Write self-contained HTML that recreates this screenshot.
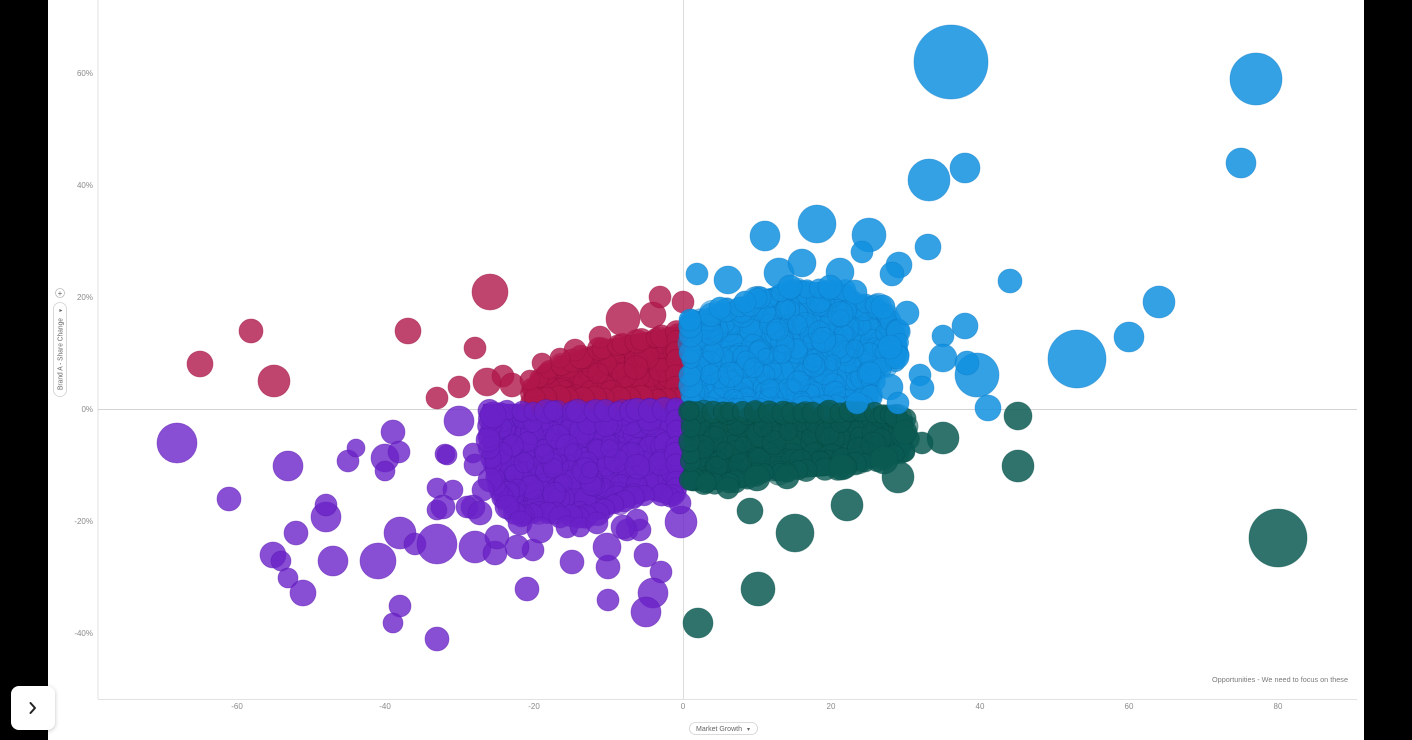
<!DOCTYPE html>
<html>
<head>
<meta charset="utf-8">
<style>
  html,body{margin:0;padding:0;background:#000;}
  body{width:1412px;height:740px;overflow:hidden;position:relative;font-family:"Liberation Sans",sans-serif;}
  svg{position:absolute;left:0;top:0;}
</style>
</head>
<body>
<svg id="chart" width="1412" height="740" viewBox="0 0 1412 740" xmlns="http://www.w3.org/2000/svg">
  <rect x="0" y="0" width="1412" height="740" fill="#000"/>
  <rect x="48" y="0" width="1316" height="740" fill="#fff"/>

  <line x1="98" y1="0" x2="98" y2="699" stroke="#e2e2e2" stroke-width="1"/>
  <line x1="98" y1="699.5" x2="1357" y2="699.5" stroke="#e2e2e2" stroke-width="1"/>
  <line x1="683.5" y1="0" x2="683.5" y2="699" stroke="#dcdcdc" stroke-width="1"/>
  <line x1="98" y1="409.5" x2="1357" y2="409.5" stroke="#d4d4d4" stroke-width="1"/>

  <g font-family="Liberation Sans, sans-serif" font-size="8" fill="#8a8a8a" text-anchor="end">
    <text x="93" y="76">60%</text>
    <text x="93" y="188">40%</text>
    <text x="93" y="300">20%</text>
    <text x="93" y="412">0%</text>
    <text x="93" y="524">-20%</text>
    <text x="93" y="636">-40%</text>
  </g>
  <g font-family="Liberation Sans, sans-serif" font-size="8" fill="#8a8a8a" text-anchor="middle">
    <text x="237" y="709">-60</text>
    <text x="385" y="709">-40</text>
    <text x="534" y="709">-20</text>
    <text x="683" y="709">0</text>
    <text x="831" y="709">20</text>
    <text x="980" y="709">40</text>
    <text x="1129" y="709">60</text>
    <text x="1278" y="709">80</text>
  </g>

  <circle cx="60" cy="293" r="4.5" fill="#fff" stroke="#bbb" stroke-width="0.8"/>
  <text x="60" y="296" font-family="Liberation Sans, sans-serif" font-size="8" fill="#666" text-anchor="middle">+</text>
  <rect x="53.5" y="302.5" width="13" height="94" rx="6.5" fill="#fff" stroke="#cfcfcf" stroke-width="0.8"/>
  <text transform="translate(62.5,390) rotate(-90)" font-family="Liberation Sans, sans-serif" font-size="7" fill="#666" textLength="72" lengthAdjust="spacingAndGlyphs">Brand A - Share Change</text>
  <text transform="translate(62.5,312) rotate(-90)" font-family="Liberation Sans, sans-serif" font-size="6" fill="#666">▾</text>

  <rect x="689.5" y="722.5" width="68" height="12" rx="6" fill="#fff" stroke="#cfcfcf" stroke-width="0.8"/>
  <text x="696" y="731" font-family="Liberation Sans, sans-serif" font-size="7.5" fill="#666" textLength="46" lengthAdjust="spacingAndGlyphs">Market Growth</text>
  <text x="747" y="731" font-family="Liberation Sans, sans-serif" font-size="6" fill="#666">▾</text>

  <text x="1348" y="682" font-family="Liberation Sans, sans-serif" font-size="7.5" fill="#7a7a7a" text-anchor="end" textLength="136" lengthAdjust="spacingAndGlyphs">Opportunities - We need to focus on these</text>

  <g id="cores">
    <polygon fill="#b0164a" points="525,405 523,386 530,378 540,366 555,360 575,352 590,347 600,341 620,337 640,333 660,330 675,327 683,325 683,405"/>
    <polygon fill="#1190e0" points="683,318 690,312 705,310 720,303 745,300 757,291 770,288 785,283 800,280 815,282 835,282 850,285 860,295 875,298 885,302 895,315 905,330 908,350 903,366 890,370 880,380 878,400 870,412 830,414 780,416 740,415 700,414 683,412"/>
    <polygon fill="#6a22c8" points="483,404 683,403 683,500 670,505 650,500 620,510 600,520 580,524 560,520 540,520 520,524 510,518 500,505 490,490 485,470 483,450 482,420"/>
    <polygon fill="#0a5a52" points="683,405 870,405 900,409 913,418 914,440 908,457 890,465 860,470 840,475 800,478 780,480 770,478 750,487 730,490 710,490 695,488 686,485 683,480"/>
  </g>
  <g id="texture"></g>

  <g fill="#b0164a" fill-opacity="0.8" stroke="#9c1040" stroke-opacity="0.5" stroke-width="0.8">
    <circle cx="490" cy="292" r="18"/>
    <circle cx="408" cy="331" r="13"/>
    <circle cx="251" cy="331" r="12"/>
    <circle cx="200" cy="364" r="13"/>
    <circle cx="274" cy="381" r="16"/>
    <circle cx="475" cy="348" r="11"/>
    <circle cx="437" cy="398" r="11"/>
    <circle cx="459" cy="387" r="11"/>
    <circle cx="487" cy="382" r="14"/>
    <circle cx="503" cy="376" r="11"/>
    <circle cx="512" cy="385" r="12"/>
    <circle cx="542" cy="363" r="10"/>
    <circle cx="623" cy="319" r="17"/>
    <circle cx="653" cy="315" r="13"/>
    <circle cx="660" cy="297" r="11"/>
    <circle cx="683" cy="302" r="11"/>
    <circle cx="600" cy="337" r="11"/>
    <circle cx="575" cy="350" r="11"/>
    <circle cx="560" cy="358" r="10"/>
    <circle cx="530" cy="380" r="10"/>
  </g>

  <g fill="#1190e0" fill-opacity="0.85" stroke="#0a7cc8" stroke-opacity="0.5" stroke-width="0.8">
    <circle cx="951" cy="62" r="37"/>
    <circle cx="1256" cy="79" r="26"/>
    <circle cx="1241" cy="163" r="15"/>
    <circle cx="929" cy="180" r="21"/>
    <circle cx="965" cy="168" r="15"/>
    <circle cx="817" cy="224" r="19"/>
    <circle cx="765" cy="236" r="15"/>
    <circle cx="869" cy="235" r="17"/>
    <circle cx="862" cy="252" r="11"/>
    <circle cx="928" cy="247" r="13"/>
    <circle cx="697" cy="274" r="11"/>
    <circle cx="728" cy="280" r="14"/>
    <circle cx="779" cy="273" r="15"/>
    <circle cx="802" cy="263" r="14"/>
    <circle cx="840" cy="272" r="14"/>
    <circle cx="899" cy="265" r="13"/>
    <circle cx="892" cy="274" r="12"/>
    <circle cx="1010" cy="281" r="12"/>
    <circle cx="757" cy="298" r="10"/>
    <circle cx="720" cy="308" r="11"/>
    <circle cx="907" cy="313" r="12"/>
    <circle cx="883" cy="307" r="12"/>
    <circle cx="965" cy="326" r="13"/>
    <circle cx="943" cy="336" r="11"/>
    <circle cx="943" cy="358" r="14"/>
    <circle cx="977" cy="375" r="22"/>
    <circle cx="967" cy="363" r="12"/>
    <circle cx="920" cy="375" r="11"/>
    <circle cx="922" cy="388" r="12"/>
    <circle cx="890" cy="387" r="13"/>
    <circle cx="898" cy="403" r="11"/>
    <circle cx="988" cy="408" r="13"/>
    <circle cx="857" cy="403" r="11"/>
    <circle cx="897" cy="357" r="12"/>
    <circle cx="890" cy="347" r="12"/>
    <circle cx="870" cy="373" r="11"/>
    <circle cx="1159" cy="302" r="16"/>
    <circle cx="1129" cy="337" r="15"/>
    <circle cx="1077" cy="359" r="29"/>
    <circle cx="690" cy="320" r="11"/>
    <circle cx="745" cy="302" r="11"/>
    <circle cx="790" cy="287" r="12"/>
    <circle cx="830" cy="287" r="12"/>
    <circle cx="855" cy="292" r="12"/>
  </g>

  <g fill="#6a22c8" fill-opacity="0.8" stroke="#5a18b0" stroke-opacity="0.5" stroke-width="0.8">
    <circle cx="177" cy="443" r="20"/>
    <circle cx="288" cy="466" r="15"/>
    <circle cx="229" cy="499" r="12"/>
    <circle cx="326" cy="517" r="15"/>
    <circle cx="326" cy="505" r="11"/>
    <circle cx="296" cy="533" r="12"/>
    <circle cx="273" cy="555" r="13"/>
    <circle cx="281" cy="561" r="10"/>
    <circle cx="288" cy="578" r="10"/>
    <circle cx="303" cy="593" r="13"/>
    <circle cx="333" cy="561" r="15"/>
    <circle cx="378" cy="561" r="18"/>
    <circle cx="400" cy="533" r="16"/>
    <circle cx="415" cy="544" r="11"/>
    <circle cx="437" cy="544" r="20"/>
    <circle cx="400" cy="606" r="11"/>
    <circle cx="393" cy="623" r="10"/>
    <circle cx="437" cy="639" r="12"/>
    <circle cx="348" cy="461" r="11"/>
    <circle cx="356" cy="448" r="9"/>
    <circle cx="393" cy="432" r="12"/>
    <circle cx="385" cy="458" r="14"/>
    <circle cx="399" cy="452" r="11"/>
    <circle cx="385" cy="471" r="10"/>
    <circle cx="445" cy="454" r="10"/>
    <circle cx="459" cy="421" r="15"/>
    <circle cx="437" cy="488" r="10"/>
    <circle cx="437" cy="510" r="10"/>
    <circle cx="473" cy="453" r="10"/>
    <circle cx="453" cy="490" r="10"/>
    <circle cx="473" cy="507" r="12"/>
    <circle cx="475" cy="547" r="16"/>
    <circle cx="495" cy="553" r="12"/>
    <circle cx="533" cy="550" r="11"/>
    <circle cx="572" cy="562" r="12"/>
    <circle cx="608" cy="567" r="12"/>
    <circle cx="527" cy="589" r="12"/>
    <circle cx="608" cy="600" r="11"/>
    <circle cx="646" cy="555" r="12"/>
    <circle cx="661" cy="572" r="11"/>
    <circle cx="653" cy="593" r="15"/>
    <circle cx="646" cy="612" r="15"/>
    <circle cx="681" cy="522" r="16"/>
    <circle cx="607" cy="547" r="14"/>
    <circle cx="447" cy="455" r="10"/>
    <circle cx="475" cy="465" r="11"/>
    <circle cx="490" cy="480" r="12"/>
    <circle cx="483" cy="490" r="11"/>
    <circle cx="443" cy="507" r="12"/>
    <circle cx="467" cy="507" r="11"/>
    <circle cx="480" cy="513" r="12"/>
    <circle cx="507" cy="507" r="12"/>
    <circle cx="520" cy="523" r="12"/>
    <circle cx="540" cy="530" r="13"/>
    <circle cx="560" cy="517" r="11"/>
    <circle cx="567" cy="527" r="11"/>
    <circle cx="580" cy="527" r="10"/>
    <circle cx="597" cy="523" r="11"/>
    <circle cx="627" cy="530" r="11"/>
    <circle cx="640" cy="530" r="11"/>
    <circle cx="637" cy="520" r="11"/>
    <circle cx="680" cy="503" r="11"/>
    <circle cx="497" cy="537" r="12"/>
    <circle cx="517" cy="547" r="12"/>
    <circle cx="623" cy="527" r="12"/>
    <circle cx="493" cy="415" r="13"/>
    <circle cx="488" cy="440" r="12"/>
  </g>

  <g fill="#0a5a52" fill-opacity="0.85" stroke="#06504a" stroke-opacity="0.5" stroke-width="0.8">
    <circle cx="1278" cy="538" r="29"/>
    <circle cx="1018" cy="416" r="14"/>
    <circle cx="1018" cy="466" r="16"/>
    <circle cx="943" cy="438" r="16"/>
    <circle cx="922" cy="443" r="11"/>
    <circle cx="898" cy="477" r="16"/>
    <circle cx="884" cy="460" r="14"/>
    <circle cx="847" cy="505" r="16"/>
    <circle cx="795" cy="533" r="19"/>
    <circle cx="758" cy="589" r="17"/>
    <circle cx="698" cy="623" r="15"/>
    <circle cx="750" cy="511" r="13"/>
    <circle cx="728" cy="488" r="11"/>
    <circle cx="706" cy="483" r="10"/>
    <circle cx="787" cy="477" r="12"/>
    <circle cx="757" cy="478" r="13"/>
    <circle cx="842" cy="467" r="13"/>
    <circle cx="905" cy="432" r="12"/>
  </g>

  <defs>
    <filter id="sh" x="-30%" y="-30%" width="160%" height="160%">
      <feDropShadow dx="0" dy="1" stdDeviation="2" flood-color="#000" flood-opacity="0.25"/>
    </filter>
  </defs>
  <rect x="11" y="686" width="44" height="44" rx="8" fill="#fff" filter="url(#sh)"/>
  <polyline points="30.5,703 35,708 30.5,713" fill="none" stroke="#222" stroke-width="2" stroke-linecap="round" stroke-linejoin="round"/>
</svg>
<script>
(function(){
  var seed = 24680;
  function rnd(){ seed = (seed * 1664525 + 1013904223) >>> 0; return seed / 4294967296; }
  function inPoly(x, y, pts){
    var c = false;
    for (var i = 0, j = pts.length - 1; i < pts.length; j = i++) {
      var xi = pts[i][0], yi = pts[i][1], xj = pts[j][0], yj = pts[j][1];
      if (((yi > y) !== (yj > y)) && (x < (xj - xi) * (y - yi) / (yj - yi) + xi)) c = !c;
    }
    return c;
  }
  function parse(s){ return s.trim().split(/\s+/).map(function(p){ var a = p.split(','); return [+a[0], +a[1]]; }); }
  var ns = "http://www.w3.org/2000/svg";
  var g = document.getElementById('texture');
  var polys = document.querySelectorAll('#cores polygon');
  var strokes = {"#b0164a":"#8e0c3a","#1190e0":"#0a74bc","#6a22c8":"#5214a8","#0a5a52":"#04463f"};
  function addCircle(x, y, r, col, op){
    var c = document.createElementNS(ns, 'circle');
    c.setAttribute('cx', x.toFixed(1));
    c.setAttribute('cy', y.toFixed(1));
    c.setAttribute('r', r.toFixed(1));
    c.setAttribute('fill', col);
    c.setAttribute('fill-opacity', op);
    c.setAttribute('stroke', strokes[col] || col);
    c.setAttribute('stroke-opacity', '0.45');
    c.setAttribute('stroke-width', '0.8');
    g.appendChild(c);
  }
  for (var k = 0; k < polys.length; k++) {
    var p = polys[k];
    var col = p.getAttribute('fill');
    var pts = parse(p.getAttribute('points'));
    var minx = 1e9, maxx = -1e9, miny = 1e9, maxy = -1e9;
    pts.forEach(function(q){ minx = Math.min(minx, q[0]); maxx = Math.max(maxx, q[0]); miny = Math.min(miny, q[1]); maxy = Math.max(maxy, q[1]); });
    var area = (maxx - minx) * (maxy - miny);
    var n = Math.round(area / 100);
    for (var i = 0; i < n; i++) {
      var x = minx + rnd() * (maxx - minx), y = miny + rnd() * (maxy - miny);
      var r = 8 + rnd() * 5;
      var d = r * 0.5;
      if (!inPoly(x, y, pts) || !inPoly(x + d, y, pts) || !inPoly(x - d, y, pts) || !inPoly(x, y + d, pts) || !inPoly(x, y - d, pts)) continue;
      addCircle(x, y, r, col, '0.55');
    }
    /* perimeter bubbles for scalloped edges */
    var cx0 = 0, cy0 = 0;
    pts.forEach(function(q){ cx0 += q[0]; cy0 += q[1]; });
    cx0 /= pts.length; cy0 /= pts.length;
    for (var e = 0; e < pts.length; e++) {
      var a = pts[e], b = pts[(e + 1) % pts.length];
      var dx = b[0] - a[0], dy = b[1] - a[1];
      var len = Math.sqrt(dx * dx + dy * dy);
      if (len < 1) continue;
      var steps = Math.max(1, Math.round(len / 12));
      for (var s = 0; s < steps; s++) {
        var t = (s + rnd() * 0.6) / steps;
        var px = a[0] + dx * t, py = a[1] + dy * t;
        var nx = -dy / len, ny = dx / len;
        if (!inPoly(px + nx * 3, py + ny * 3, pts)) { nx = -nx; ny = -ny; }
        var rr = 9 + rnd() * 3;
        var inset = 6 + rnd() * 2;
        addCircle(px + nx * inset, py + ny * inset, rr, col, '0.8');
      }
    }
  }
})();
</script>
</body>
</html>
